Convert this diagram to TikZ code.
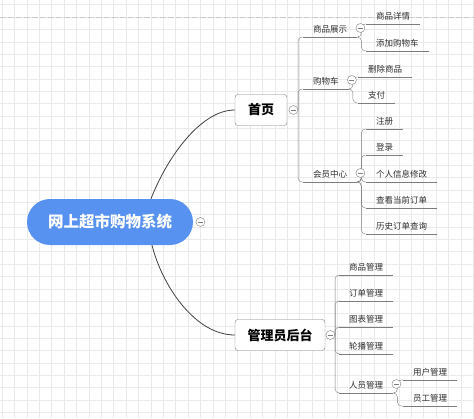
\documentclass[tikz,border=0pt]{standalone}
\usepackage{fontspec}
\setmainfont{Noto Sans CJK SC}
\usetikzlibrary{positioning}
\definecolor{rootblue}{RGB}{88,146,240}
\definecolor{linegray}{RGB}{125,125,125}
\definecolor{gridgray}{RGB}{234,234,234}
\definecolor{textgray}{RGB}{45,45,45}

\begin{document}
\begin{tikzpicture}[x=1pt, y=-1pt,
  Root/.style={fill=rootblue, text=white, font=\fontsize{15.5}{16}\selectfont\bfseries, rounded corners=23pt, minimum width=166pt, minimum height=46pt, inner sep=0pt},
  Topic/.style={draw=linegray, fill=white, rounded corners=3pt, font=\fontsize{13}{14}\selectfont\bfseries, minimum height=31pt, inner xsep=12pt},
  Leaf/.style={anchor=south west, text=textgray, font=\fontsize{8.5}{9}\selectfont, inner xsep=10pt, inner ysep=4pt},
  Hub/.style={circle, draw=linegray, fill=white, minimum size=9pt, inner sep=0pt, path picture={\draw[linegray] ([xshift=2pt]path picture bounding box.west) -- ([xshift=-2pt]path picture bounding box.east);}},
  Branch/.style={draw=linegray, rounded corners=4pt},
  Main/.style={draw=black!75, line width=0.8pt}]

\useasboundingbox (0,0) rectangle (474,418);
\fill [white] (0,0) rectangle (474,418);

% grid paper
\foreach \gx in {2,14.4,...,474} {
  \draw [gridgray] (\gx,0) -- (\gx,418);
}
\foreach \gy in {4.65,17,...,418} {
  \draw [gridgray] (0,\gy) -- (474,\gy);
}
\draw [black!20, dash pattern=on 6pt off 2pt] (0,17) -- (474,17);

\node [Root] (root) at (110,222) {网上超市购物系统};
\node [Hub, right=2.5pt of root] (roothub) {};

\node [Topic, minimum width=52pt] (home) at (261,110) {首页};
\node [Hub, right=1.5pt of home] (homehub) {};

\node [Topic, minimum width=90pt] (admin) at (280,335) {管理员后台};
\node [Hub, right=0.5pt of admin] (adminhub) {};

\foreach \name/\px/\py/\txt in {show/303/37/商品展示, cart/303/89/购物车, member/303/182/会员中心,
    detail/366/24/商品详情, addcart/366/51/添加购物车, del/358/77/删除商品, pay/358/103/支付,
    reg/366/129/注册, login/366/155/登录, info/366/182/个人信息修改, cur/366/208/查看当前订单, hist/366/234/历史订单查询,
    goods/339/275/商品管理, order/339/301/订单管理, chart/339/327/图表管理, banner/339/354/轮播管理, staff/339/393/人员管理,
    user/403/380/用户管理, emp/403/406/员工管理} {
  \node [Leaf] (\name) at (\px,\py) {\txt};
  \draw [Branch] (\name.south west) -- (\name.south east);
}

\draw [Main] ([xshift=41pt]root.north) .. controls +(15,-39) and +(-35,0) .. (home.west);
\draw [Main] ([xshift=42pt]root.south) .. controls +(10,40) and +(-40,0) .. (admin.west);

\foreach \child in {show, cart, member} {
  \draw [Branch] (homehub.east) |- (\child.south west);
}
\foreach \child in {goods, order, chart, banner, staff} {
  \draw [Branch] (adminhub.east) |- (\child.south west);
}
\foreach \parent/\child in {show/detail, show/addcart, cart/del, cart/pay,
    member/reg, member/login, member/info, member/cur, member/hist, staff/user, staff/emp} {
  \draw [Branch] (\parent.south east) -- ++(4,0) |- (\child.south west);
}

\foreach \name in {show, cart, member, staff} {
  \node [Hub] (\name-hub) at ([xshift=3pt,yshift=9pt]\name.south east) {};
}
\end{tikzpicture}
\end{document}
